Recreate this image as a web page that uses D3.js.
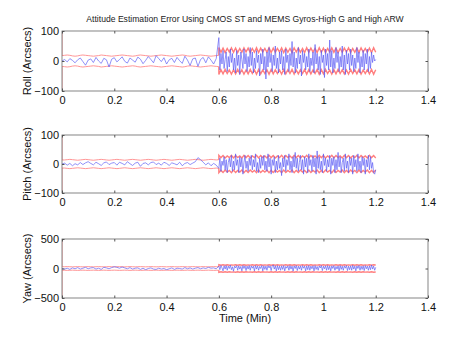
<!DOCTYPE html>
<html><head><meta charset="utf-8">
<script src="https://cdn.jsdelivr.net/npm/d3@7"></script>
<style>body{margin:0;background:#fff}svg{display:block}</style>
</head><body>
<svg id="c" width="474" height="345"></svg>
<script>
const title = "Attitude Estimation Error Using CMOS ST and MEMS Gyros-High G and High ARW";
const xTicks = [0, 0.2, 0.4, 0.6, 0.8, 1, 1.2, 1.4];
// segment A: t = 0 .. 0.59 (step 0.01) for errors, t = 0 .. 0.6 for bounds
// segment B: t = 0.6 .. 1.2 (errors step 0.004, bounds step 0.008)
const stepA = 0.01, stepErrB = 0.004, stepBoundB = 0.008, tSwitch = 0.6;

const rollErrA = [0,5,-3,8,2,-6,4,10,-2,-14,3,7,-5,12,0,-8,9,4,-20,6,11,-3,5,14,-1,-7,10,3,-4,13,6,-9,2,15,5,-6,18,8,-2,11,-10,4,9,-5,12,1,-8,16,3,-15,7,10,-18,5,12,-6,14,3,-10,8];
const rollErrB = [78,-30,25,-10,35,-25,5,30,-35,15,-20,40,-5,25,-30,
10,-40,35,-15,20,-45,30,5,-25,40,-10,25,-35,15,-20,
45,-15,30,-40,10,-25,35,-5,20,-50,25,-10,40,-30,15,
-60,30,-20,45,-5,25,-35,20,-15,50,-25,10,-40,30,-10,
35,-30,15,-45,40,-5,20,-35,25,-15,65,-20,30,-40,10,
-25,45,-10,20,-50,35,-5,25,-30,15,-20,40,-35,10,-15,
30,-40,55,-10,25,-30,15,-45,35,-5,20,-55,40,-15,25,
-30,70,-20,35,-40,10,-25,45,-5,30,-35,15,-20,50,-30,
20,-45,35,-10,25,-30,40,-15,20,-35,10,-25,45,-5,30,
-40,15,-20,35,-30,25,-10,40,-35,15,-25,30,-5,20,0,5];
const rollBoundStart = 120;
const rollBoundA = [18,19,20,19,17,16,17,19,20,19,18,17,16,17,18,20,19,18,17,16,17,18,19,20,19,18,17,16,17,19,20,19,18,17,16,17,18,19,20,19,18,17,16,17,18,19,20,19,17,16,17,18,19,20,19,18,17,16,17,18,19];
const rollBoundB = [45,29,43,28,42,30,44,29,43,28,42,29,44,30,43,28,42,29,44,28,43,30,42,29,44,28,43,29,42,30,44,28,43,29,42,28,44,30,43,29,42,28,44,29,43,30,42,28,44,29,43,28,42,30,44,29,43,28,42,29,43,30,44,28,42,29,43,28,44,30,42,29,43,28,44,29];

const pitchErrA = [0,3,-4,2,-6,1,-3,5,-2,4,8,2,-3,6,1,-5,4,7,-2,3,5,-4,6,2,-3,8,1,-5,3,6,-8,2,4,-3,5,7,-2,3,-4,6,2,-5,4,1,-3,6,-6,2,5,-2,3,8,22,15,6,-3,4,-6,2,-4];
const pitchErrB = [-15,20,-25,10,-5,25,-20,15,-30,5,20,-10,30,-25,10,
-20,35,-5,15,-30,25,-10,20,-35,5,30,-15,10,-25,20,
-5,30,-20,15,-10,35,-25,5,-30,20,-15,25,-5,30,-20,
10,-25,35,-10,20,-35,15,-5,25,-30,10,-20,30,-15,5,
-40,20,-10,30,-25,15,-5,35,-20,10,-30,25,-10,40,-15,
20,-25,5,30,-20,15,-35,25,-10,20,-30,35,-5,15,-25,
30,-10,20,-35,45,-15,25,-20,10,-30,35,-5,20,-25,15,
-10,30,-35,20,-5,25,-30,15,-20,40,-10,25,-30,5,20,
-25,35,-15,10,-30,25,-5,20,-35,30,-10,15,-25,35,-20,
10,-30,25,-5,20,-35,15,-10,30,-20,25,-15,5,-30,-35,-20];
const pitchBoundStart = 110;
const pitchBoundA = [14,14,15,16,15,14,13,14,15,16,15,14,13,14,15,16,15,14,13,14,15,16,15,14,13,14,15,16,15,14,13,14,15,16,15,14,13,14,15,16,15,14,13,14,15,16,15,14,13,14,15,16,15,14,13,14,15,16,15,14,15];
const pitchBoundB = [30,22,29,21,28,22,30,21,29,22,28,21,30,22,29,21,28,22,30,21,29,22,28,21,30,22,29,21,28,22,30,21,29,22,28,21,30,22,29,21,28,22,30,21,29,22,28,21,30,22,29,21,28,22,30,21,29,22,28,21,30,22,29,21,28,22,30,21,29,22,28,21,30,22,29,21];

const yawErrA = [0,-10,5,-15,10,-5,15,-10,5,20,-5,10,15,-10,5,-15,20,10,-5,15,30,20,5,25,10,-5,15,-10,5,10,-15,5,-20,0,10,-10,-15,5,-10,0,-20,-5,10,-15,5,0,-10,15,-5,10,-10,5,15,-5,10,0,20,5,10,-5];
const yawErrB = [40,-20,50,10,-40,45,-10,50,-30,40,0,55,-20,30,-45,
40,10,50,-30,45,-10,35,-40,50,0,45,-35,40,-10,50,
-30,45,5,40,-40,50,-10,45,-30,35,0,50,-40,45,-15,
40,-30,50,10,45,-35,40,60,-10,45,-40,50,-20,40,-30,
45,-15,50,-40,35,5,45,-30,50,-10,40,-45,45,0,50,
-35,40,-10,45,-30,50,5,40,-40,45,-20,50,-30,40,-5,
45,-40,50,-15,35,-30,45,10,50,-35,40,-5,45,-30,50,
-20,40,-40,45,0,50,-30,35,-10,45,-40,50,-15,40,-30,
45,5,50,-35,40,-20,45,-30,55,-10,40,-40,45,0,50,
-30,40,-15,45,-35,50,-5,40,-30,45,-20,60,-10,40,-30,20];
const yawBoundStart = 600;
const yawBoundA = [30,30,32,30,28,30,32,30,28,30,32,30,28,30,32,30,28,30,32,30,28,30,32,30,28,30,32,30,28,30,32,30,28,30,32,30,28,30,32,30,28,30,32,30,28,30,32,30,28,30,32,30,28,30,32,30,28,30,32,30,30];
const yawBoundB = [65,55,63,56,64,55,62,57,64,55,63,56,64,55,62,57,64,55,63,56,64,55,62,57,64,55,63,56,64,55,62,57,64,55,63,56,64,55,62,57,64,55,63,56,64,55,62,57,64,55,63,56,64,55,62,57,64,55,63,56,64,55,62,57,64,55,63,56,64,55,62,57,64,55,63,60];

const panels = [
  {label:"Roll (Arcsecs)", top:31, bottom:91, ext:100, ticks:[-100,0,100], errA:rollErrA, errB:rollErrB, b0:rollBoundStart, bA:rollBoundA, bB:rollBoundB},
  {label:"Pitch (Arcsecs)", top:135, bottom:193, ext:100, ticks:[-100,0,100], errA:pitchErrA, errB:pitchErrB, b0:pitchBoundStart, bA:pitchBoundA, bB:pitchBoundB},
  {label:"Yaw (Arcsecs)", top:239, bottom:298, ext:500, ticks:[-500,0,500], errA:yawErrA, errB:yawErrB, b0:yawBoundStart, bA:yawBoundA, bB:yawBoundB}
];

const svg = d3.select("#c");
const font = "'Liberation Sans', Arial, sans-serif";
const x = d3.scaleLinear().domain([0,1.4]).range([62,428]);

svg.append("text").attr("x",245).attr("y",22).attr("text-anchor","middle")
  .attr("font-family",font).attr("font-size",8.6).attr("fill","#222").text(title);

panels.forEach((p, pi) => {
  const y = d3.scaleLinear().domain([-p.ext, p.ext]).range([p.bottom, p.top]);
  const g = svg.append("g");
  const cid = "clip"+pi;
  svg.append("clipPath").attr("id",cid).append("rect")
    .attr("x",62).attr("y",p.top).attr("width",366).attr("height",p.bottom-p.top);

  const err = p.errA.map((v,i)=>({t:i*stepA, v:v}))
    .concat(p.errB.map((v,i)=>({t:tSwitch+i*stepErrB, v:v})));
  const bndA = [{t:0, v:p.b0}].concat(p.bA.map((v,i)=>({t:i*stepA, v:v})));
  const bndB = [bndA[bndA.length-1]].concat(p.bB.map((v,i)=>({t:tSwitch+i*stepBoundB, v:v})));

  const pg = g.append("g").attr("clip-path",`url(#${cid})`);
  const lineUp = d3.line().x(d=>x(d.t)).y(d=>y(d.v));
  const lineDn = d3.line().x(d=>x(d.t)).y(d=>y(-d.v));
  const red = "#ff7f7f";
  [lineUp, lineDn].forEach(ln => {
    pg.append("path").datum(bndA).attr("d",ln).attr("fill","none").attr("stroke","#ff8a8a").attr("stroke-width",0.9);
    pg.append("path").datum(bndB).attr("d",ln).attr("fill","none").attr("stroke",red).attr("stroke-width",1.4);
  });
  pg.append("path").datum(err).attr("d",lineUp).attr("fill","none").attr("stroke","#5c5cf5").attr("stroke-width",0.8).attr("stroke-opacity",0.85);

  g.append("rect").attr("x",62).attr("y",p.top).attr("width",366).attr("height",p.bottom-p.top)
    .attr("fill","none").attr("stroke","#666").attr("stroke-width",0.8);

  const xb = g.append("g").attr("transform",`translate(0,${p.bottom})`)
    .call(d3.axisBottom(x).tickValues(xTicks).tickSize(-2.5).tickPadding(5).tickFormat(d3.format("")));
  const xt = g.append("g").attr("transform",`translate(0,${p.top})`)
    .call(d3.axisTop(x).tickValues(xTicks).tickSize(-2.5).tickFormat(""));
  const yl = g.append("g").attr("transform",`translate(62,0)`)
    .call(d3.axisLeft(y).tickValues(p.ticks).tickSize(-2.5).tickPadding(3));
  const yr = g.append("g").attr("transform",`translate(428,0)`)
    .call(d3.axisRight(y).tickValues(p.ticks).tickSize(-2.5).tickFormat(""));
  [xb,xt,yl,yr].forEach(a=>{
    a.select(".domain").remove();
    a.selectAll("line").attr("stroke","#555");
    a.selectAll("text").attr("font-family",font).attr("font-size",11).attr("fill","#111");
  });
  svg.append("text").attr("transform",`translate(31,${(p.top+p.bottom)/2}) rotate(-90)`)
    .attr("text-anchor","middle").attr("font-family",font).attr("font-size",11).attr("fill","#111").text(p.label);
});

svg.append("text").attr("x",245).attr("y",322).attr("text-anchor","middle")
  .attr("font-family",font).attr("font-size",11).attr("fill","#111").text("Time (Min)");
</script>
</body></html>
